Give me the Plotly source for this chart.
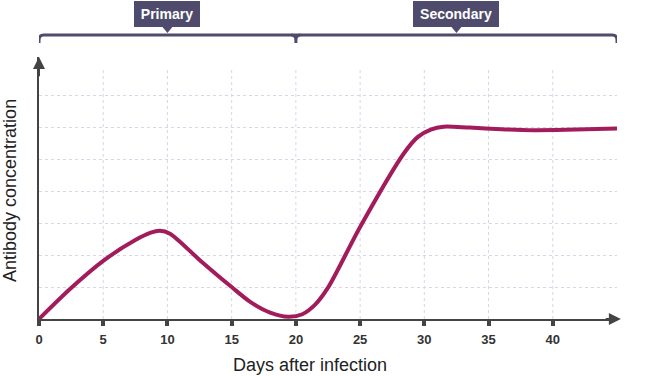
import plotly.graph_objects as go

# ---- data ----
days = [0, 2.5, 5, 7.5, 8.7, 9.4, 10.2, 12.5, 15, 16.5, 18, 19.4, 20.5, 21.5, 22.5,
        25, 28.4, 29.5, 30.5, 31.5, 33.5, 36, 38.5, 41, 45]
antibody = [0, 0.97, 1.82, 2.47, 2.7, 2.76, 2.67, 1.85, 1.0, 0.52, 0.2, 0.07, 0.15,
            0.45, 0.98, 2.88, 5.18, 5.7, 5.93, 6.02, 5.99, 5.94, 5.91, 5.92, 5.96]
x_ticks = [0, 5, 10, 15, 20, 25, 30, 35, 40]
y_grid = [1, 2, 3, 4, 5, 6, 7]
phases = ["Primary", "Secondary"]
phase_start = [0, 20]
phase_end = [20, 45]

CURVE = "#a21c5c"
AXIS = "#444444"
GRID = "#d6d6e6"
LABEL = "#4e4b6c"
FONT = "Liberation Sans, Arial, sans-serif"

fig = go.Figure()
fig.add_trace(go.Scatter(x=days, y=antibody, mode="lines",
                         line=dict(color=CURVE, width=4, shape="spline", smoothing=0.8),
                         hoverinfo="skip", showlegend=False))

shapes = []
for t in x_ticks[1:]:
    shapes.append(dict(type="line", xref="x", yref="y", x0=t, x1=t, y0=0, y1=7.85,
                       line=dict(color=GRID, width=1, dash="dot"), layer="below"))

yl = 1.084
yd = 1.053
r = 0.35
rp = 0.02
path = (f"M 0,{yd} L 0,{yl-rp} Q 0,{yl} {r},{yl} "
        f"L {45-r},{yl} Q 45,{yl} 45,{yl-rp} L 45,{yd}")
shapes.append(dict(type="path", xref="x", yref="paper", path=path,
                   line=dict(color=LABEL, width=3)))
mid = phase_end[0]
path2 = (f"M {mid-r},{yl} Q {mid},{yl} {mid},{yl-rp} L {mid},{yd} "
         f"M {mid+r},{yl} Q {mid},{yl} {mid},{yl-rp}")
shapes.append(dict(type="path", xref="x", yref="paper", path=path2,
                   line=dict(color=LABEL, width=3)))

annotations = []
for name, s, e in zip(phases, phase_start, phase_end):
    c = (s + e) / 2
    w = 66 if name == "Primary" else 86
    annotations.append(dict(x=c, y=1.164, xref="x", yref="paper", text=f"<b>{name}</b>",
                            showarrow=False, bgcolor=LABEL, width=w, height=26,
                            borderpad=0, borderwidth=0, xanchor="center", yanchor="middle",
                            font=dict(family=FONT, size=14, color="white")))
    shapes.append(dict(type="path", xref="x", yref="paper",
                       path=f"M {c-0.4},1.115 L {c},1.092 L {c+0.4},1.115 Z",
                       fillcolor=LABEL, line=dict(width=0)))

annotations.append(dict(x=45.3, y=0, ax=44.0, ay=0, xref="x", yref="y", axref="x", ayref="y",
                        showarrow=True, arrowhead=2, arrowsize=1.2, arrowwidth=2,
                        arrowcolor=AXIS, text=""))
annotations.append(dict(x=0, y=8.2, ax=0, ay=7.55, xref="x", yref="y", axref="x", ayref="y",
                        showarrow=True, arrowhead=2, arrowsize=1.2, arrowwidth=2,
                        arrowcolor=AXIS, text=""))

annotations.append(dict(x=0.469, y=-0.175, xref="paper", yref="paper", text="Days after infection",
                        showarrow=False, xanchor="center", yanchor="middle",
                        font=dict(family=FONT, size=18, color="#222222")))
annotations.append(dict(x=-0.05, y=0.489, xref="paper", yref="paper", text="Antibody concentration",
                        showarrow=False, textangle=-90, xanchor="center", yanchor="middle",
                        font=dict(family=FONT, size=18, color="#222222")))

fig.update_layout(
    width=646, height=376,
    margin=dict(l=39, r=29, t=57, b=57),
    paper_bgcolor="white", plot_bgcolor="white",
    shapes=shapes, annotations=annotations,
    xaxis=dict(range=[0, 45], tickvals=x_ticks, ticktext=[str(t) for t in x_ticks],
               showgrid=False, zeroline=False, showline=True, linecolor=AXIS, linewidth=2,
               ticks="outside", ticklen=5, tickwidth=4, tickcolor=AXIS,
               tickfont=dict(family=FONT, size=13, color="#333333", weight=700),
               ticklabelstandoff=2, fixedrange=True),
    yaxis=dict(range=[0, 8.2], tickvals=y_grid, showticklabels=False, ticks="",
               showgrid=True, gridcolor=GRID, gridwidth=1, griddash="dot",
               zeroline=False, showline=True, linecolor=AXIS, linewidth=2,
               fixedrange=True),
)

fig.write_html("out.html", config={"displayModeBar": False},
               post_script="document.body.style.margin='0';document.body.style.padding='0';")
